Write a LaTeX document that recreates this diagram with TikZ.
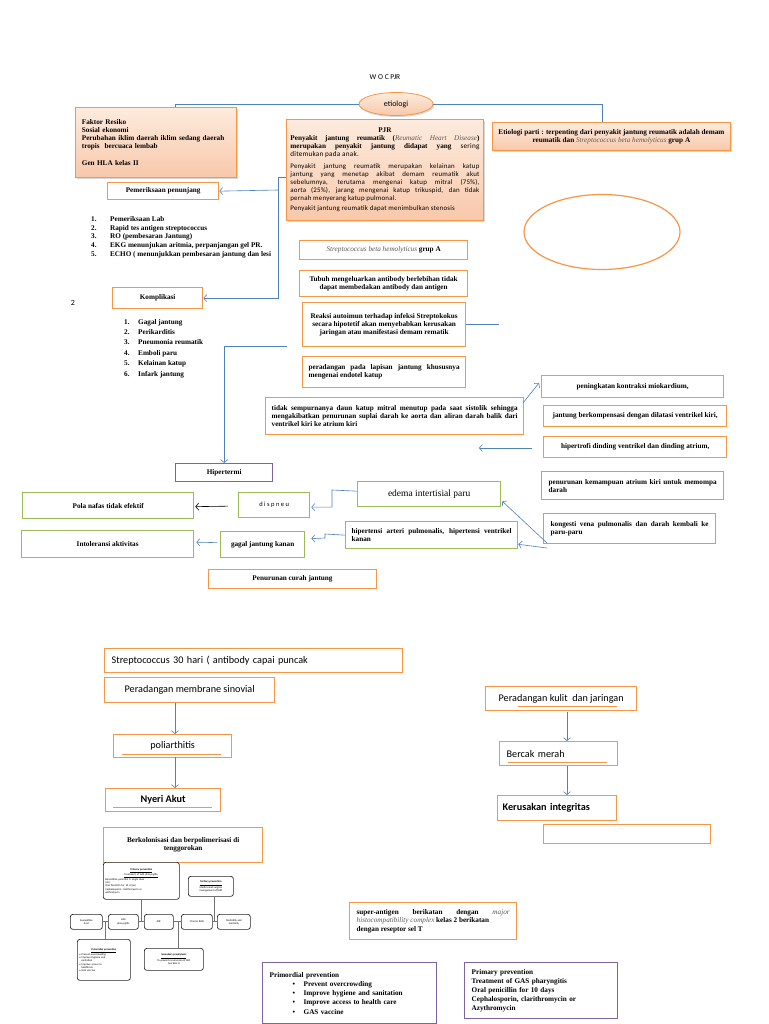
\documentclass[tikz,border=0pt]{standalone}
\usepackage{fontspec}
\setmainfont{Liberation Serif}
\newfontfamily\calib{Carlito}
\newfontfamily\calibls{Carlito}[LetterSpace=3]
\usetikzlibrary{shapes.geometric,shadows,calc,arrows.meta}
\definecolor{orng}{HTML}{F79646}
\definecolor{grn}{HTML}{9BBB59}
\definecolor{purp}{HTML}{8064A2}
\definecolor{blu}{HTML}{4F81BD}
\definecolor{pktop}{HTML}{FDEBDD}
\definecolor{pkbot}{HTML}{F8C8AB}
\definecolor{gtxt}{HTML}{595959}
\newcommand\sm{\bfseries\fontsize{7.2}{8.2}\selectfont}
\newcommand\tny{\calib\fontsize{2.7}{3.1}\selectfont}
\tikzset{
 nw/.style={anchor=north west},
 sz/.style 2 args={minimum width=#1,minimum height=#2},
 ob/.style={draw=orng,line width=1.3pt,fill=white,inner sep=2pt,align=center,font=\sm},
 gb/.style={draw=grn,line width=1.3pt,fill=white,inner sep=2pt,align=center,font=\sm},
 pb/.style={draw=purp,line width=1.3pt,fill=white,inner sep=2pt,align=center,font=\sm},
 pk/.style={draw=orng,line width=0.8pt,top color=pktop,bottom color=pkbot,drop shadow={opacity=0.3,shadow xshift=1.2pt,shadow yshift=-1.5pt},inner sep=2pt,font=\sm},
 cn/.style={draw=blu,line width=0.6pt},
 ar/.style={cn,-{Straight Barb[length=3pt,width=7pt]}},
 rb/.style={draw=black!85,line width=0.7pt,rounded corners=2.5pt,fill=white,font=\tny,align=center,inner sep=1pt},
 gl/.style={draw=black!55,line width=0.9pt},
}
\begin{document}
\begin{tikzpicture}[x=1pt,y=-1pt]
\useasboundingbox[fill=white] (0,0) rectangle (768,1024);

% ---------- top ----------
\node[font=\calib\fontsize{7.5}{8}\selectfont] (title) at (385,77) {W O C PJR};
\node[ellipse,pk,sz={74}{23},inner sep=0,font=\calib\fontsize{8}{9}\selectfont] (etio) at (396,104) {etiologi};

\node[pk,nw,sz={161}{70},text width=148,align=left,inner xsep=6.5] (faktor) at (75,107)
 {Faktor Resiko\\Sosial ekonomi\\Perubahan iklim daerah iklim sedang daerah\\tropis\ \ bercuaca lembab\\[8.2pt]Gen HLA kelas II};

\node[pk,nw,sz={197}{101},text width=189,align=justify,inner xsep=4,inner ysep=3] (pjr) at (286,119)
 {{\centering PJR\par}
 Penyakit jantung reumatik ({\color{gtxt}\mdseries\itshape Reumatic Heart Disease})\linebreak
 merupakan penyakit jantung didapat yang {\calibls\mdseries sering}\linebreak
 {\calibls\mdseries ditemukan pada anak.}\par\vspace{4pt}
 {\calibls\mdseries\fontsize{6.9}{8}\selectfont Penyakit jantung reumatik merupakan kelainan katup\linebreak
 jantung yang menetap akibat demam reumatik akut\linebreak
 sebelumnya, terutama mengenai katup mitral (75\%),\linebreak
 aorta (25\%), jarang mengenai katup trikuspid, dan tidak\linebreak
 pernah menyerang katup pulmonal.\par\vspace{2pt}
 Penyakit jantung reumatik dapat menimbulkan stenosis\par}};

\node[pk,nw,sz={238}{28},align=center] (etiol) at (492,122)
 {Etiologi parti : terpenting dari penyakit jantung reumatik adalah demam\\reumatik dan {\color{gtxt}\mdseries\itshape Streptococcus beta hemolyticus} grup A};

\node[ellipse,draw=orng,line width=1.2pt,sz={156}{75}] (oval) at (602,232) {};

\draw[cn] (etio.west) -| ($(faktor.north west)+(100,0)$);
\draw[cn] (etio.east) -| ($(etiol.north west)+(110,0)$);

% ---------- left column ----------
\node[ob,nw,sz={111}{17}] (pem) at (107,182) {Pemeriksaan penunjang};
\node[nw,align=left,inner sep=0,font=\bfseries\fontsize{7.2}{8.9}\selectfont] (lst1) at (91,216)
 {\makebox[19pt][l]{1.}Pemeriksaan Lab\\
  \makebox[19pt][l]{2.}Rapid tes antigen streptococcus\\
  \makebox[19pt][l]{3.}RO (pembesaran Jantung)\\
  \makebox[19pt][l]{4.}EKG menunjukan aritmia, perpanjangan gel PR.\\
  \makebox[19pt][l]{5.}ECHO ( menunjukkan pembesaran jantung dan lesi};
\node[font=\calib\fontsize{8}{9}\selectfont] (two) at (73,303) {2};
\node[ob,nw,sz={90}{21}] (komp) at (112,287) {Komplikasi};
\node[nw,align=left,inner sep=0,font=\bfseries\fontsize{7.2}{10.4}\selectfont] (lst2) at (124,319)
 {\makebox[14pt][l]{1.}Gagal jantung\\
  \makebox[14pt][l]{2.}Perikarditis\\
  \makebox[14pt][l]{3.}Pneumonia reumatik\\
  \makebox[14pt][l]{4.}Emboli paru\\
  \makebox[14pt][l]{5.}Kelainan katup\\
  \makebox[14pt][l]{6.}Infark jantung};

\coordinate (pjrL) at (286,177);
\coordinate (j1) at (278,177);
\coordinate (j2) at (278,190);
\draw[cn] (pjrL) -- (j1);
\draw[ar] (j1) |- (komp.east);
\draw[ar] (j2) -- (pem.east);

% ---------- middle column ----------
\node[ob,nw,sz={168}{19}] (strep) at (299,240) {{\color{gtxt}\mdseries\itshape Streptococcus beta hemolyticus} grup A};
\node[ob,nw,sz={168}{26}] (tubuh) at (299,270) {Tubuh mengeluarkan antibody berlebihan tidak\\dapat membedakan antibody dan antigen};
\node[ob,nw,sz={163}{44}] (reaksi) at (302,302) {Reaksi autoimun terhadap infeksi Streptokokus\\secara hipotetif akan menyebabkan kerusakan\\jaringan atau manifestasi demam rematik};
\node[ob,nw,sz={163}{31},text width=151,align=justify,inner xsep=6] (lapis) at (302,356) {peradangan pada lapisan jantung khususnya\linebreak mengenai endotel katup};
\node[ob,nw,sz={258}{37},text width=246,align=justify,inner xsep=6] (tidak) at (265,397)
 {tidak sempurnanya daun katup mitral menutup pada saat sistolik sehingga\linebreak
  mengakibatkan penurunan suplai darah ke aorta dan aliran darah balik dari\linebreak
  ventrikel kiri ke atrium kiri};

\draw[cn] (reaksi.east) -- ++(33,0);

% ---------- right column ----------
\node[ob,nw,sz={182}{22}] (pening) at (541,375) {peningkatan kontraksi miokardium,};
\node[ob,nw,sz={183}{21}] (dilat) at (543,405) {jantung berkompensasi dengan dilatasi ventrikel kiri,};
\node[ob,nw,sz={183}{21}] (hipertr) at (543,436) {hipertrofi dinding ventrikel dan dinding atrium,};
\node[gb,nw,sz={182}{28},text width=168,align=justify,inner xsep=7] (penur) at (541,471) {penurunan kemampuan atrium kiri untuk memompa\linebreak darah};
\node[gb,nw,sz={172}{30},text width=158,align=justify,inner xsep=7] (kong) at (543,513) {kongesti vena pulmonalis dan darah kembali ke\linebreak paru-paru};

\coordinate (tA) at (523,403);
\coordinate (pA) at (539,383);
\draw[ar] (tA) -- (pA);
\coordinate (fA) at (532,448);
\coordinate (fB) at (479,448);
\draw[ar] (fA) -- (fB);

% ---------- lower middle ----------
\node[pb,nw,sz={97}{18}] (hiper) at (175,463) {Hipertermi};
\coordinate (rA) at (287,346);
\draw[ar] (rA) -| (hiper.north);
\node[gb,nw,sz={143}{25},font=\mdseries\fontsize{9.5}{11}\selectfont] (edema) at (357,481) {edema intertisial paru};
\node[gb,nw,sz={172}{27},text width=160,align=justify,inner xsep=6] (hipert) at (345,521) {hipertensi arteri pulmonalis, hipertensi ventrikel\linebreak kanan};
\node[gb,nw,sz={71}{25},font=\calib\fontsize{6.5}{7}\selectfont] (disp) at (238,492) {d i s p n e u};
\node[gb,nw,sz={84}{26}] (gagal) at (220,531) {gagal jantung kanan};
\node[gb,nw,sz={171}{26}] (pola) at (22,492) {Pola nafas tidak efektif};
\node[gb,nw,sz={172}{27}] (intol) at (21,530) {Intoleransi aktivitas};
\node[ob,nw,sz={168}{19},line width=1pt] (curah) at (208,569) {Penurunan curah jantung};

\coordinate (kA) at (547,543);
\coordinate (kB) at (547,548);
\draw[ar] (kA) -- ($(edema.south east)+(1,-6)$);
\draw[ar] (kB) -- ($(hipert.south east)+(0,-5)$);
\draw[ar] ($(edema.west)+(0,-3)$) -- (332,490) |- ($(disp.east)+(1,2)$);
\draw[-{Straight Barb[length=3pt,width=7pt]},line width=0.6pt] ($(disp.west)+(-10,1)$) -- ($(pola.east)+(1,1)$);
\draw[ar] (hipert.west) -- (325,534) -- (325,538) -- ($(gagal.east)+(6,-6)$);
\draw[ar] ($(gagal.west)+(-3,-2)$) -- ($(intol.east)+(2,-2)$);

% ---------- lower section ----------
\tikzset{cf/.style={font=\calib\fontsize{10.2}{12}\selectfont},
         cfb/.style={font=\calib\bfseries\fontsize{10.2}{12}\selectfont}}
\node[ob,nw,cf,sz={298}{24},text width=284,align=left,inner xsep=7] (s30) at (104,648) {Streptococcus 30 hari ( antibody capai puncak};
\node[ob,nw,cf,sz={170}{25}] (sino) at (104,677) {Peradangan membrane sinovial};
\node[ob,nw,cf,sz={118}{23}] (poli) at (113,734) {poliarthitis};
\node[ob,nw,cfb,sz={115}{23}] (nyeri) at (105,788) {Nyeri Akut};
\draw[orng,line width=1pt] (122,754) -- (221,754);
\draw[orng,line width=1pt] (113,807) -- (212,807);
\draw[ar] (175,703) -- (poli.north -| 175,0);
\draw[ar] (175,757) -- (nyeri.north -| 175,0);

\node[ob,nw,cf,sz={151}{24}] (kulit) at (485,686) {Peradangan kulit\ \ dan jaringan};
\node[ob,nw,cf,sz={118}{24},text width=104,align=left,inner xsep=7] (bercak) at (499,741) {Bercak merah};
\node[ob,nw,cfb,sz={119}{25},text width=109,align=left,inner xsep=5] (rusak) at (497,795) {Kerusakan integritas};
\node[ob,nw,sz={167}{19}] (empty) at (543,824) {};
\draw[orng,line width=1pt] (518,706) -- (617,706);
\draw[orng,line width=1pt] (508,762) -- (607,762);
\draw[ar] (567,712) -- (bercak.north -| 567,0);
\draw[ar] (567,766) -- (rusak.north -| 567,0);

\node[ob,nw,sz={159}{35}] (kolon) at (103,827) {Berkolonisasi dan berpolimerisasi di\\tenggorokan};

% ---------- embedded figure ----------
\node[rb,nw,sz={76}{37},text width=72,align=left] (prim) at (103,862)
 {{\centering\underline{\textit{\textbf{Primary prevention}}}\\\underline{Treatment of GAS pharyngitis:}\par}Benzathine penicillin G single dose\\(im)\\Oral Penicillin for 10 d (po)\\Cephalosporin, clarithromycin or\\azithromycin};
\node[rb,nw,sz={45}{20}] (tert) at (188,876) {\underline{\textit{\textbf{Tertiary prevention}}}\\Medical and surgical\\management of RHD};
\node[rb,nw,sz={32}{15}] (sus) at (70,914) {Susceptible\\host};
\node[rb,nw,sz={30}{15}] (gas) at (108,914) {GAS\\pharyngitis};
\node[rb,nw,sz={29}{15}] (arf) at (144,914) {ARF};
\node[rb,nw,sz={31}{15}] (chr) at (181,914) {Chronic RHD};
\node[rb,nw,sz={33}{15}] (morb) at (217,914) {Morbidity and\\mortality};
\node[rb,nw,sz={53}{41},text width=49,align=left] (primo) at (77,939)
 {{\centering\underline{\textit{\textbf{Primordial prevention}}}\par}\textbullet\ Prevent overcrowding\\\textbullet\ Improve hygiene and\\\hspace*{2pt}sanitation\\\textbullet\ Improve access to\\\hspace*{2pt}healthcare\\\textbullet\ GAS vaccine};
\node[rb,nw,sz={59}{22}] (sec) at (144,948) {\underline{\textit{\textbf{Secondary prophylaxis}}}\\To prevent recurrences of ARF\\(see Box 1)};
\draw[gl] (sus) -- (gas);
\draw[gl] (gas) -- (arf);
\draw[gl] (arf) -- (chr);
\draw[gl] (chr) -- (morb);
\draw[gl] (prim.south -| 141,0) -- (141,921.5);
\draw[gl] (tert.south -| 214,0) -- (214,921.5);
\draw[gl] (primo.north -| 105,0) -- (105,921.5);
\draw[gl] (sec.north -| 178,0) -- (178,921.5);

% ---------- bottom right ----------
\node[ob,nw,sz={167}{37},text width=153,align=justify,inner xsep=7] (super) at (349,902)
 {super-antigen berikatan dengan {\color{gtxt}\mdseries\itshape major}\linebreak {\color{gtxt}\mdseries\itshape histocompatibility complex} kelas 2 berikatan\\dengan reseptor sel T};
\node[pb,nw,sz={153}{56},text width=139,align=left,inner xsep=7,font=\bfseries\fontsize{7.2}{8.9}\selectfont] (primp) at (464,962)
 {Primary prevention\\Treatment of GAS pharyngitis\\Oral penicillin for 10 days\\Cephalosporin, clarithromycin or\\Azythromycin};
\node[pb,nw,sz={174}{61},text width=160,align=left,inner xsep=7,font=\bfseries\fontsize{7.2}{9.3}\selectfont] (primo2) at (262,962)
 {Primordial prevention\\
  \hspace*{23pt}\makebox[11pt][l]{\textbullet}Prevent overcrowding\\
  \hspace*{23pt}\makebox[11pt][l]{\textbullet}Improve hygiene and sanitation\\
  \hspace*{23pt}\makebox[11pt][l]{\textbullet}Improve access to health care\\
  \hspace*{23pt}\makebox[11pt][l]{\textbullet}GAS vaccine};
\end{tikzpicture}
\end{document}
